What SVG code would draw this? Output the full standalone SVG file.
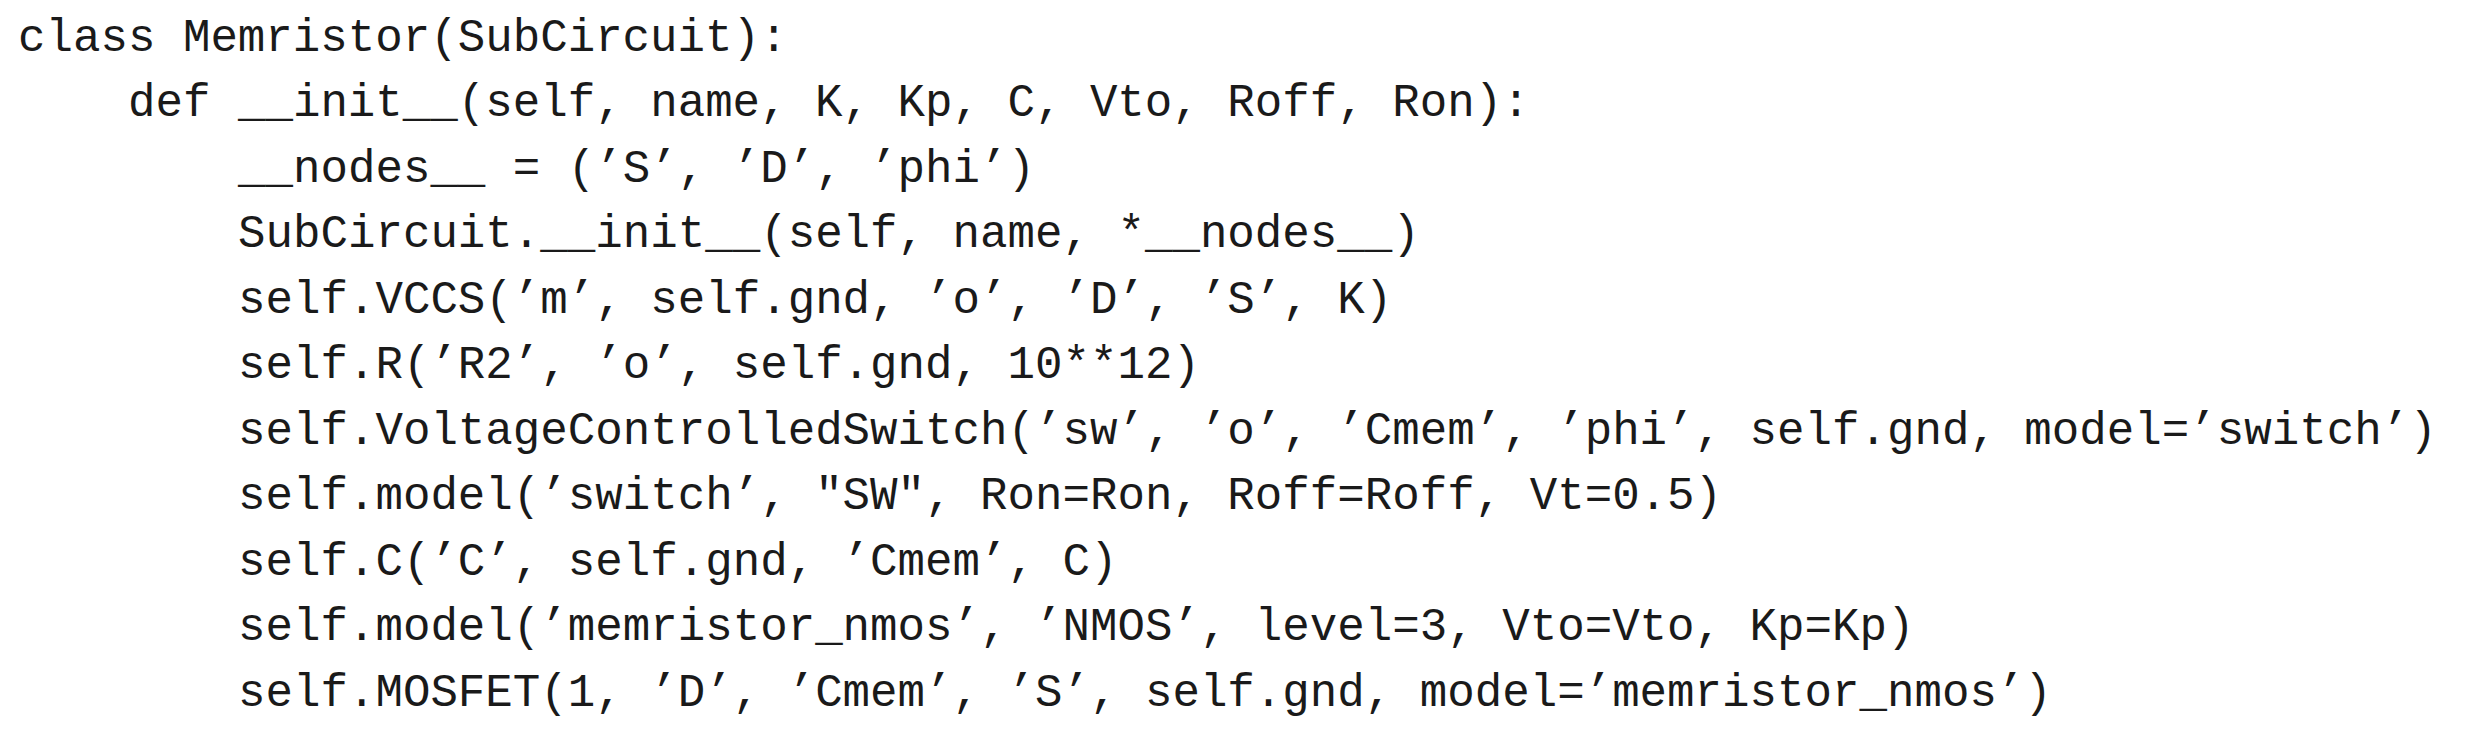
<svg xmlns="http://www.w3.org/2000/svg" width="2485" height="729" viewBox="0 0 2485 729">
<style>text{font-family:"Liberation Mono","Courier New",monospace;font-size:45.8px;fill:#1a1a1a;white-space:pre}</style>
<rect width="2485" height="729" fill="#fff"/>
<g id="code">
<text x="18" y="51">class Memristor(SubCircuit):</text>
<text x="128" y="116">def __init__(self, name, K, Kp, C, Vto, Roff, Ron):</text>
<text x="238" y="182">__nodes__ = (’S’, ’D’, ’phi’)</text>
<text x="238" y="247">SubCircuit.__init__(self, name, *__nodes__)</text>
<text x="238" y="313">self.VCCS(’m’, self.gnd, ’o’, ’D’, ’S’, K)</text>
<text x="238" y="378">self.R(’R2’, ’o’, self.gnd, 10**12)</text>
<text x="238" y="444">self.VoltageControlledSwitch(’sw’, ’o’, ’Cmem’, ’phi’, self.gnd, model=’switch’)</text>
<text x="238" y="509">self.model(’switch’, "SW", Ron=Ron, Roff=Roff, Vt=0.5)</text>
<text x="238" y="575">self.C(’C’, self.gnd, ’Cmem’, C)</text>
<text x="238" y="640">self.model(’memristor_nmos’, ’NMOS’, level=3, Vto=Vto, Kp=Kp)</text>
<text x="238" y="706">self.MOSFET(1, ’D’, ’Cmem’, ’S’, self.gnd, model=’memristor_nmos’)</text>
</g>
</svg>
